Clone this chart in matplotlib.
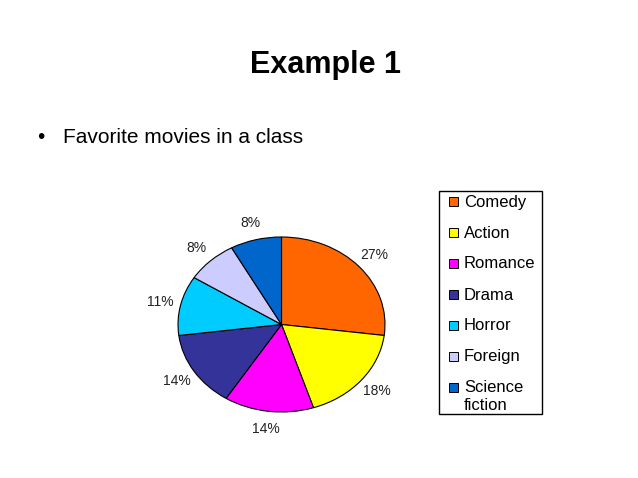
import matplotlib
matplotlib.use('Agg')
import matplotlib.pyplot as plt
from matplotlib.patches import Rectangle

# data
genres = ['Comedy', 'Action', 'Romance', 'Drama', 'Horror', 'Foreign', 'Science\nfiction']
shares = [27, 18, 14, 14, 11, 8, 8]
colors = ['#FF6600', '#FFFF00', '#FF00FF', '#333399', '#00CCFF', '#CCCCFF', '#0066CC']

W, H = 638, 478
plt.rcParams['font.family'] = ['Liberation Sans', 'DejaVu Sans']

fig = plt.figure(figsize=(W / 100, H / 100), dpi=100)
fig.patch.set_facecolor('white')


def fx(px):
    return px / W


def fy(py):
    return 1 - py / H


# slide text
fig.text(fx(325), fy(73), 'Example 1', fontsize=22, fontweight='bold',
         ha='center', va='baseline')
fig.text(fx(41), fy(143), '\u2022', fontsize=15, ha='center', va='baseline')
fig.text(fx(63), fy(143), 'Favorite movies in a class', fontsize=15,
         ha='left', va='baseline')

# pie (slightly elliptical like the original)
ax = fig.add_axes([fx(178), fy(412), fx(207), (412 - 237) / H])
wedges, texts, autotexts = ax.pie(
    shares, colors=colors, startangle=90, counterclock=False,
    autopct='%1.0f%%', pctdistance=1.2,
    wedgeprops=dict(edgecolor='black', linewidth=0.8),
    textprops=dict(fontsize=10, color='#222222'))
ax.set_aspect('auto')
ax.set_xlim(-1, 1)
ax.set_ylim(-1, 1)
ax.axis('off')

# legend drawn by hand
fig.patches.append(Rectangle((fx(439), fy(414)), fx(542 - 439), (414 - 191) / H,
                             transform=fig.transFigure, facecolor='white',
                             edgecolor='black', linewidth=1.0, zorder=1))
for i, (g, c) in enumerate(zip(genres, colors)):
    yc = 201 + 31 * i
    fig.patches.append(Rectangle((fx(449), fy(yc + 4.5)), fx(9), 9 / H,
                                 transform=fig.transFigure, facecolor=c,
                                 edgecolor='black', linewidth=0.7, zorder=2))
    for k, line in enumerate(g.split('\n')):
        fig.text(fx(464), fy(yc + 5.5 + 17 * k), line, fontsize=12,
                 ha='left', va='baseline', zorder=3)

fig.savefig('out.png', dpi=100)
